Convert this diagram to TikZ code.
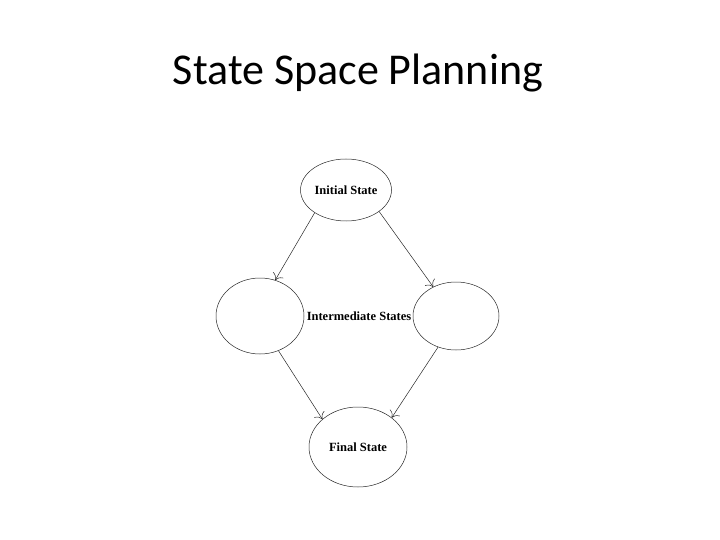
\documentclass[tikz,border=0pt]{standalone}
\usepackage{fontspec}
\setmainfont{Liberation Serif}
\newfontfamily\titlefont{Carlito}
\usetikzlibrary{positioning,shapes.geometric,arrows.meta}

\tikzset{
  state/.style={draw=black!85, ellipse, line width=.5pt, inner sep=0pt},
  stlabel/.style={font=\fontsize{12.5}{14}\selectfont\bfseries},
  trans/.style={draw=black!85, line width=.5pt, -{To[length=6pt,width=12pt]}}
}

\begin{document}
\begin{tikzpicture}[x=1pt,y=-1pt]
  \useasboundingbox (0,0) rectangle (720,540);
  \node[anchor=base, font=\titlefont\fontsize{44}{50}\selectfont] (title) at (358,85) {State Space Planning};
  % states
  \node[state, minimum width=91pt, minimum height=62pt, stlabel] (init) at (346,190) {Initial State};
  \node[state, minimum width=88pt, minimum height=76pt] (left) at (260,316) {};
  \node[state, minimum width=86pt, minimum height=68pt] (right) at (456,316) {};
  \node[stlabel] (inter) at (359,316) {Intermediate States};
  \node[state, minimum width=98pt, minimum height=80pt, stlabel] (final) at (358,447) {Final State};
  % transitions
  \draw[trans] (init.216) -- (left.67);
  \draw[trans] (init.327) -- (right.128);
  \draw[trans] (left.298) -- (final.142);
  \draw[trans] (right.240) -- (final.41);
\end{tikzpicture}
\end{document}
